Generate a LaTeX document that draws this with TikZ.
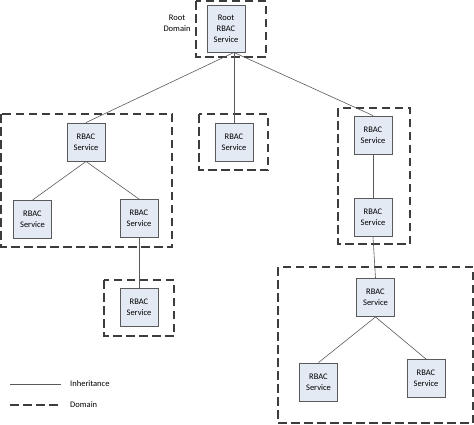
\documentclass[tikz,border=0pt]{standalone}
\usepackage{fontspec}
\setmainfont{Carlito}
\usetikzlibrary{positioning}
\definecolor{Lfill}{HTML}{E4EAF4}
\definecolor{Ldraw}{HTML}{5A5A5A}
\definecolor{Ldom}{HTML}{3C3C3C}
\definecolor{Lline}{HTML}{595959}

\begin{document}
\begin{tikzpicture}[
  x=1pt, y=-1pt,
  font=\fontsize{8.5}{11}\selectfont,
  svc/.style={draw=Ldraw, fill=Lfill, line width=0.9pt, minimum width=38pt, minimum height=38pt, align=center, inner sep=1pt},
  dom/.style={draw=Ldom, line width=1.4pt, dash pattern=on 8.5pt off 4.5pt},
  rel/.style={draw=Lline, line width=0.6pt},
]
\useasboundingbox (0,0) rectangle (474,424);

% ── domains ──────────────────────────────────────────────────────────
\draw[dom] (196,1) rectangle (266,57);
\draw[dom] (1,114) rectangle (172,247);
\draw[dom] (199,114) rectangle (268,170);
\draw[dom] (338,108) rectangle (410,244);
\draw[dom] (104,280) rectangle (174,336);
\draw[dom] (278,267) rectangle (473,423);

% ── services ─────────────────────────────────────────────────────────
\node[svc, minimum height=47pt] (root) at (226,28.5) {Root\\RBAC\\Service};
\node[align=center] (rootlbl) at (177,23) {Root\\Domain};

\node[svc] (A)  at (86,142)    {RBAC\\Service};
\node[svc] (A1) at (32.5,219.5) {RBAC\\Service};
\node[svc] (A2) at (139,218.5) {RBAC\\Service};
\node[svc] (D)  at (139,307.5) {RBAC\\Service};

\node[svc] (B)  at (234,142)   {RBAC\\Service};

\node[svc] (C)  at (373,135)   {RBAC\\Service};
\node[svc] (C2) at (373,217.5) {RBAC\\Service};

\node[svc] (E)  at (375.5,297.5) {RBAC\\Service};
\node[svc] (E1) at (318.5,382) {RBAC\\Service};
\node[svc] (E2) at (426,378.5) {RBAC\\Service};

% edges
\draw[rel] (root.south -| B.north) -- (A.north);
\draw[rel] (root.south -| B.north) -- (B.north);
\draw[rel] (root.south -| B.north) -- (C.north);
\draw[rel] (A.south) -- (A1.north);
\draw[rel] (A.south) -- (A2.north);
\draw[rel] (A2.south) -- (D.north);
\draw[rel] (C.south) -- (C2.north);
\draw[rel] (C2.south) -- (E.north);
\draw[rel] (E.south) -- (E1.north);
\draw[rel] (E.south) -- (E2.north);

% ── legend ───────────────────────────────────────────────────────────
\coordinate (inh0) at (10,384); \coordinate (inh1) at (61,384);
\coordinate (dom0) at (10,405); \coordinate (dom1) at (61,405);
\draw[rel] (inh0) -- (inh1);
\draw[dom] (dom0) -- (dom1);
\node[right=8pt of inh1, inner sep=1pt] (inhlbl) {Inheritance};
\node[right=8pt of dom1, inner sep=1pt] (domlbl) {Domain};

\end{tikzpicture}
\end{document}
